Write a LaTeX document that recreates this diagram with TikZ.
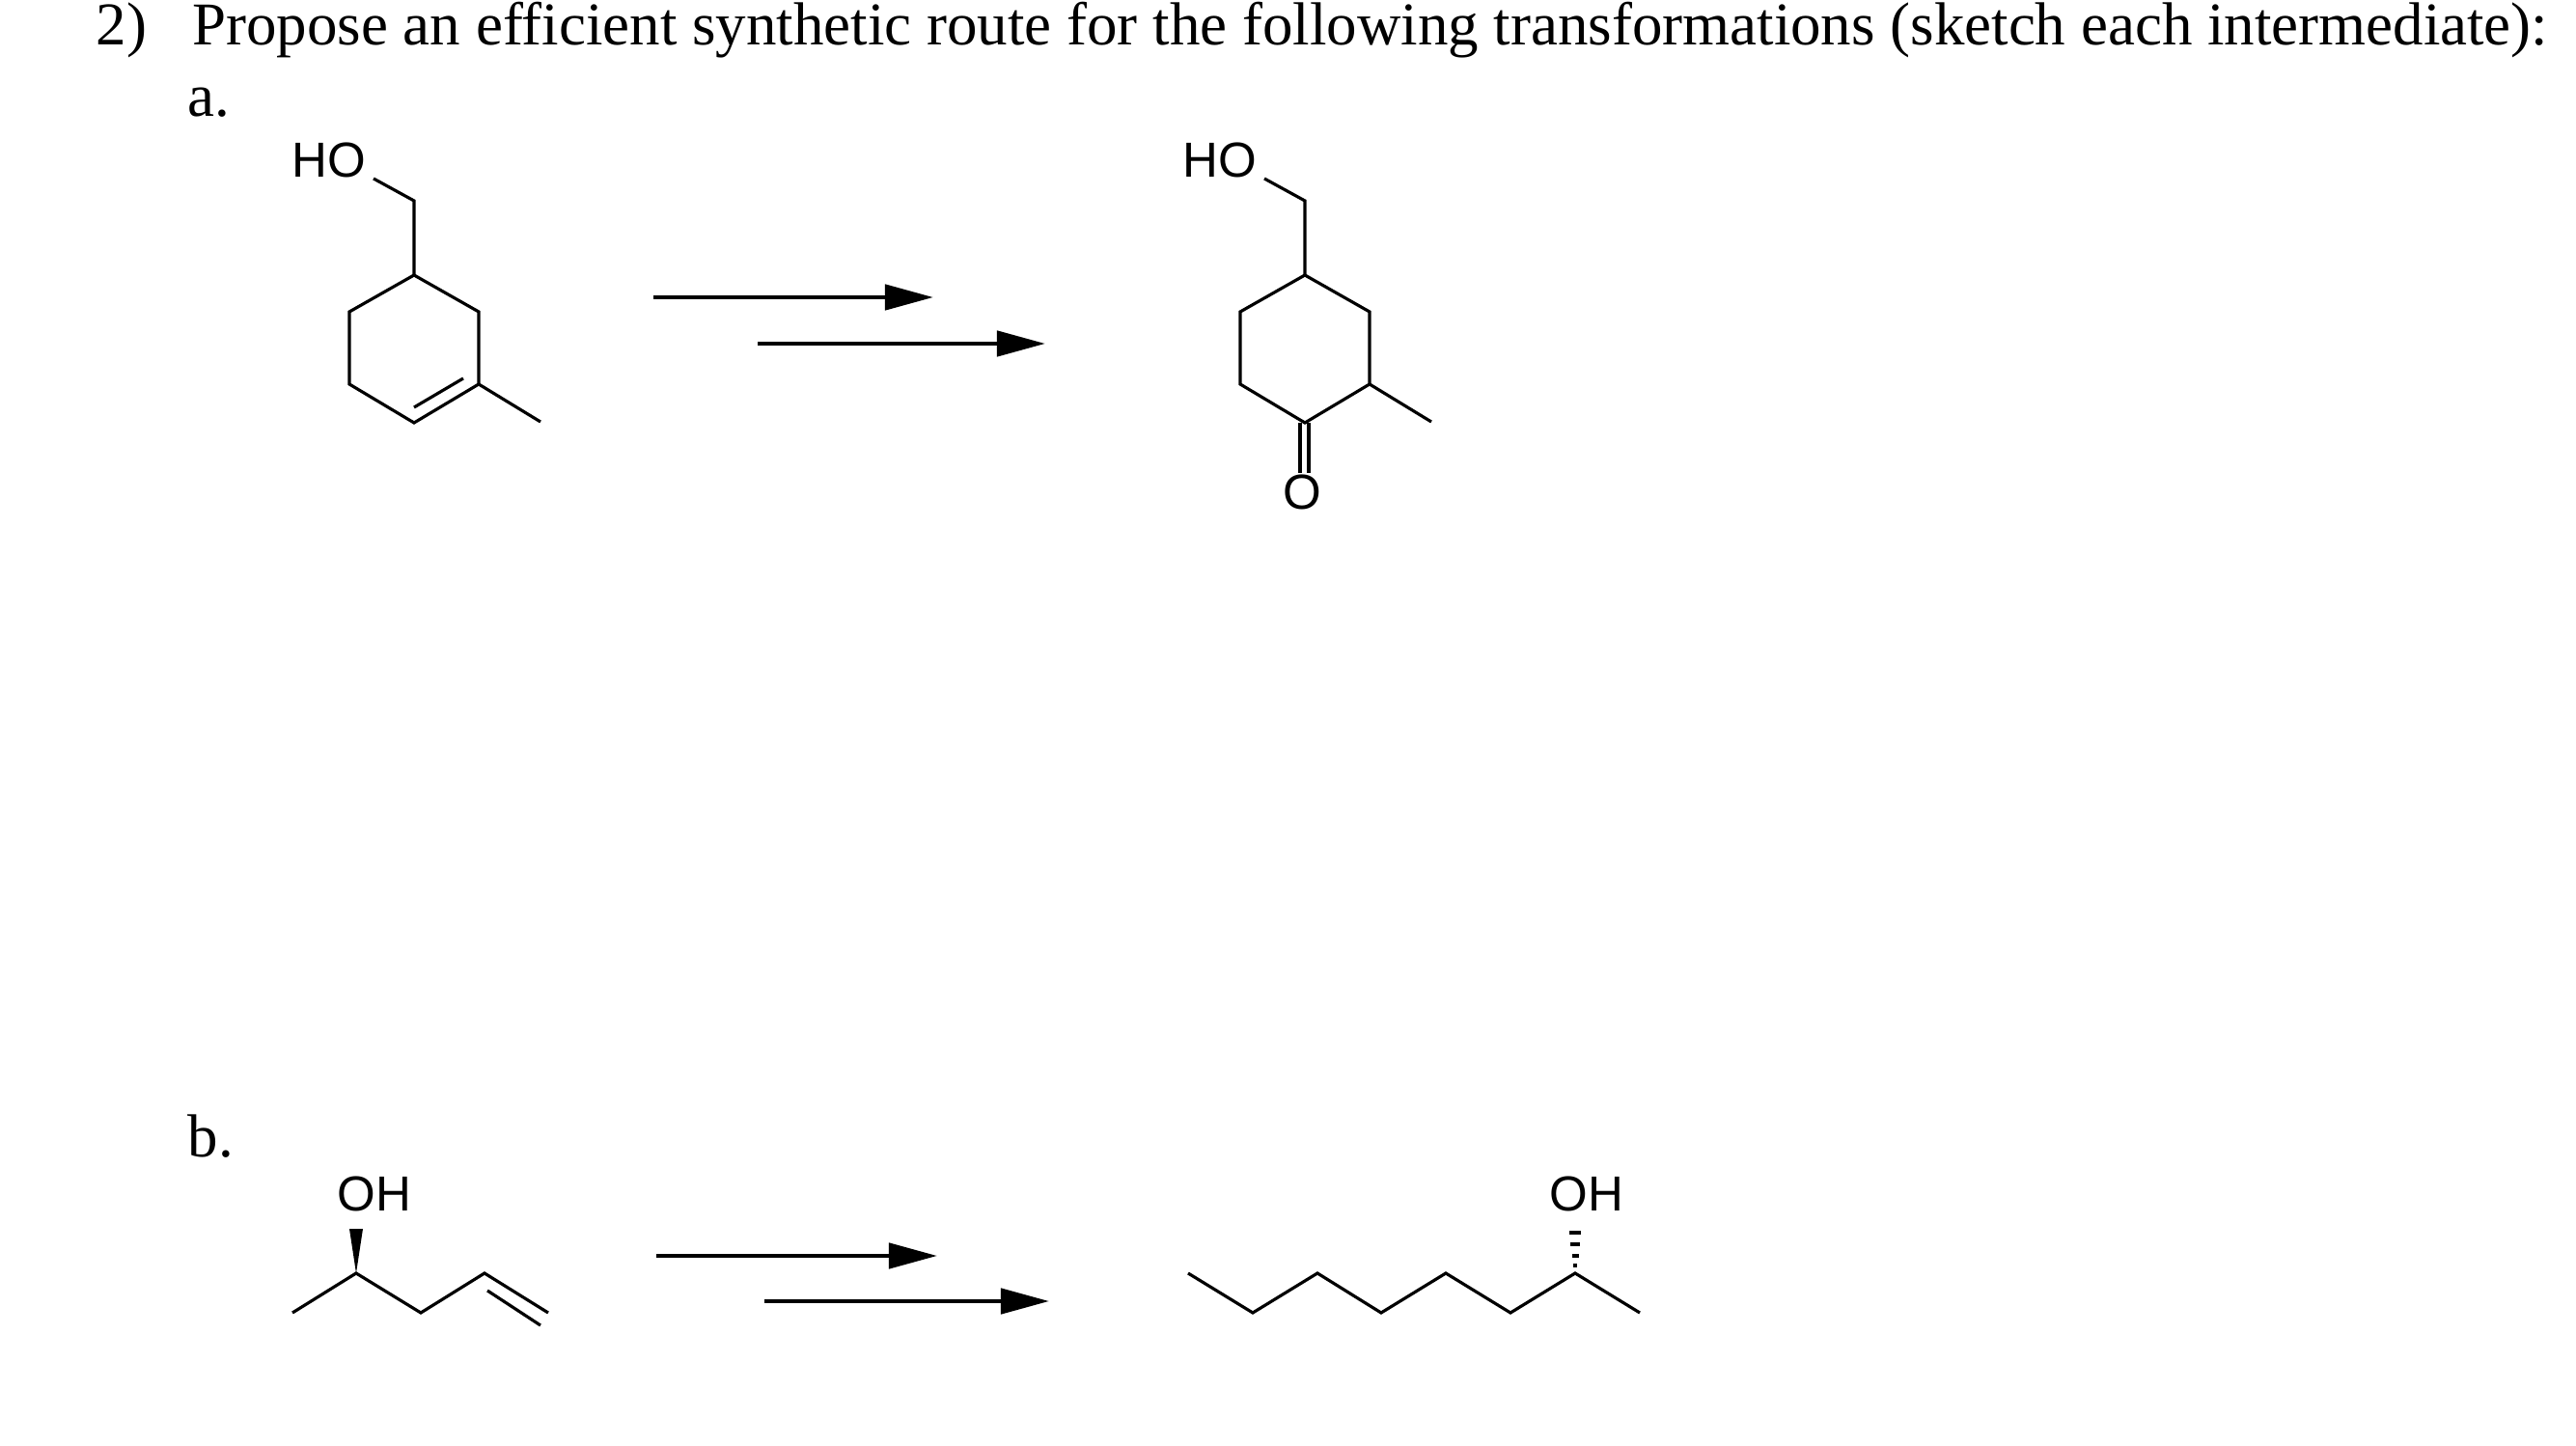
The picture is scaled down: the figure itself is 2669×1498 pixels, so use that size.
\documentclass[tikz,border=0pt]{standalone}
\usepackage{fontspec}
\setmainfont{Liberation Serif}
\newfontfamily\lab{Liberation Sans}
\usetikzlibrary{arrows.meta}
\begin{document}
\begin{tikzpicture}[x=0.01cm,y=-0.01cm,
  bond/.style={line width=0.9pt},
  rxn/.style={line width=1.3pt,-{Triangle[length=0.5cm,width=0.26cm]}},
  atom/.style={font=\lab\fontsize{14.5}{16}\selectfont,inner sep=0pt},
  hdr/.style={font=\fontsize{17.9}{22}\selectfont,inner sep=0pt,anchor=west}]
\useasboundingbox (0,0) rectangle (2669,1498);
\fill[white] (0,0) rectangle (2669,1498);
\node[hdr] (title) at (99,31) {2)\hspace{0.5em} Propose an efficient synthetic route for the following transformations (sketch each intermediate):};
\node[hdr] (la) at (194,106) {a.};
\node[hdr] (lb) at (194,1177) {b.};
% molecule a1
\node[atom] (ho1) at (341,166) {HO};
\draw[bond] (387,185) -- (429,208) -- (429,285);
\draw[bond] (429,285) -- (496,323) -- (496,398) -- (429,438) -- (362,398) -- (362,323) -- cycle;
\draw[bond] (496,398) -- (560,437);
\draw[bond] (429,422) -- (480,392);
% arrows a
\coordinate (a1s) at (677,308); \coordinate (a1e) at (967,308);
\coordinate (a2s) at (785,356); \coordinate (a2e) at (1083,356);
\draw[rxn] (a1s) -- (a1e);
\draw[rxn] (a2s) -- (a2e);
% molecule a2
\node[atom] (ho2) at (1264,166) {HO};
\draw[bond] (1310,185) -- (1352,208) -- (1352,285);
\draw[bond] (1352,285) -- (1419,323) -- (1419,398) -- (1352,438) -- (1285,398) -- (1285,323) -- cycle;
\draw[bond] (1419,398) -- (1483,437);
\node[atom] (o2) at (1349,510) {O};
\draw[bond] (1347,438) -- (1347,490);
\draw[bond] (1356,438) -- (1356,490);
% molecule b1
\node[atom] (oh1) at (388,1237) {OH};
\draw[bond] (303,1360) -- (369,1319) -- (436,1360) -- (502,1319) -- (568,1360);
\draw[bond] (505,1337) -- (560,1373);
\fill (369,1319) -- (362,1273) -- (376,1273) -- cycle;
% arrows b
\coordinate (b1s) at (680,1301); \coordinate (b1e) at (971,1301);
\coordinate (b2s) at (792,1348); \coordinate (b2e) at (1087,1348);
\draw[rxn] (b1s) -- (b1e);
\draw[rxn] (b2s) -- (b2e);
% molecule b2
\node[atom] (oh2) at (1644,1237) {OH};
\draw[bond] (1231,1319) -- (1298,1360) -- (1365,1319) -- (1431,1360) -- (1498,1319) -- (1565,1360) -- (1632,1319) -- (1699,1360);
\foreach \y/\w in {1277/6,1289/5,1301/3.5,1311/2} \draw[line width=0.9pt] (1632-\w,\y) -- (1632+\w,\y);
\end{tikzpicture}
\end{document}
